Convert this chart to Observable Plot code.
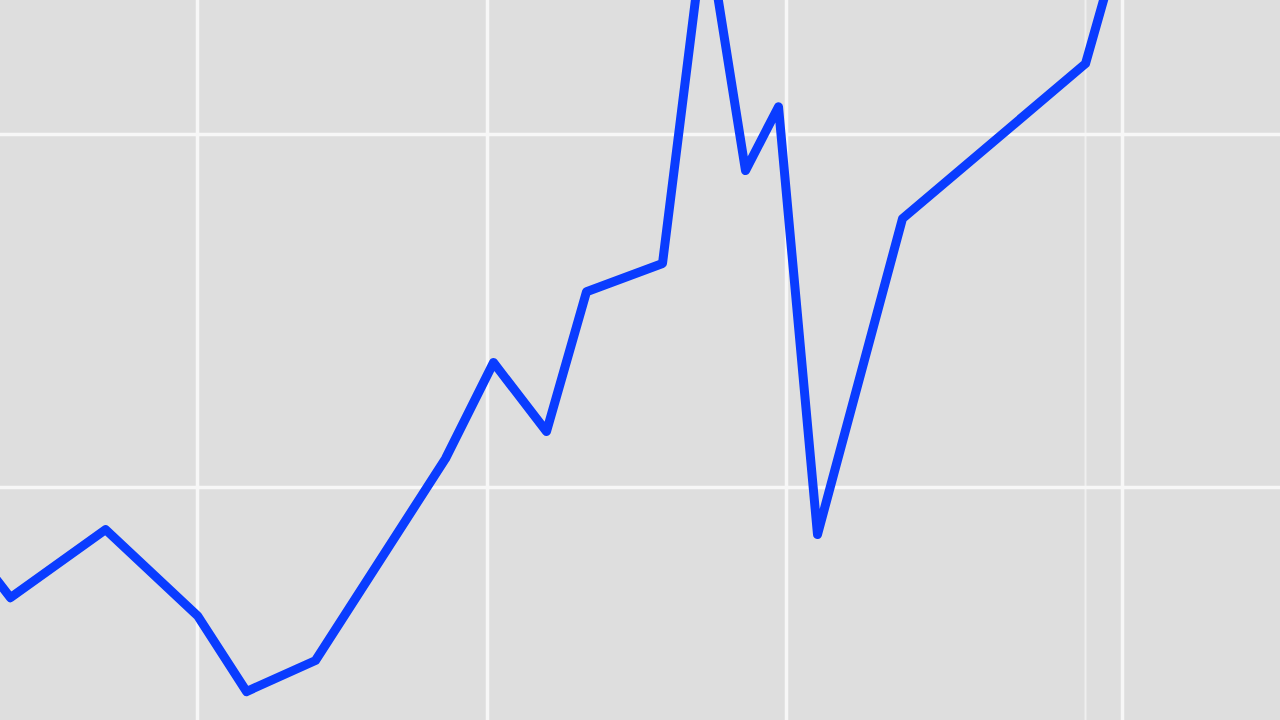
<!DOCTYPE html>
<html>
<head>
<meta charset="utf-8">
<script src="https://cdn.jsdelivr.net/npm/d3@7"></script>
<script src="https://cdn.jsdelivr.net/npm/@observablehq/plot@0.6"></script>
<style>
  html, body { margin: 0; padding: 0; background: #dedede; overflow: hidden; }
</style>
</head>
<body>
<div id="chart"></div>
<script>
// Series (x position in arbitrary time units, y value)
const xs = [-1.5, 1.0, 10.5, 19.7, 24.6, 31.5, 44.5, 49.3, 54.6, 58.6, 66.2, 70.5, 74.5, 77.8, 81.7, 90.2, 108.5, 112.5];
const ys = [7.79, 6.88, 8.81, 6.37, 4.22, 5.10, 10.82, 13.54, 11.59, 15.55, 16.35, 26.1, 18.98, 20.79, 8.67, 17.62, 22.01, 26.0];
// Grid tick positions
const xTicks = [19.7, 48.7, 78.6, 112.2];
const xTicksFaint = [108.5];
const yTicks = [10, 20];

const data = xs.map((x, i) => ({x, y: ys[i]}));

const chart = Plot.plot({
  width: 1280,
  height: 720,
  marginTop: 0, marginRight: 0, marginBottom: 0, marginLeft: 0,
  x: {domain: [0, 128], axis: null},
  y: {domain: [3.4, 23.8], axis: null},
  style: {background: "#dedede"},
  marks: [
    Plot.ruleX(xTicksFaint, {stroke: "#ffffff", strokeWidth: 2, strokeOpacity: 0.5}),
    Plot.ruleX(xTicks, {stroke: "#f7f7f7", strokeWidth: 3.5}),
    Plot.ruleY(yTicks, {stroke: "#f7f7f7", strokeWidth: 3.5}),
    Plot.line(data, {x: "x", y: "y", stroke: "#0a3cff", strokeWidth: 9, strokeLinejoin: "round", strokeLinecap: "round", clip: true})
  ]
});
document.getElementById("chart").appendChild(chart);
</script>
</body>
</html>
